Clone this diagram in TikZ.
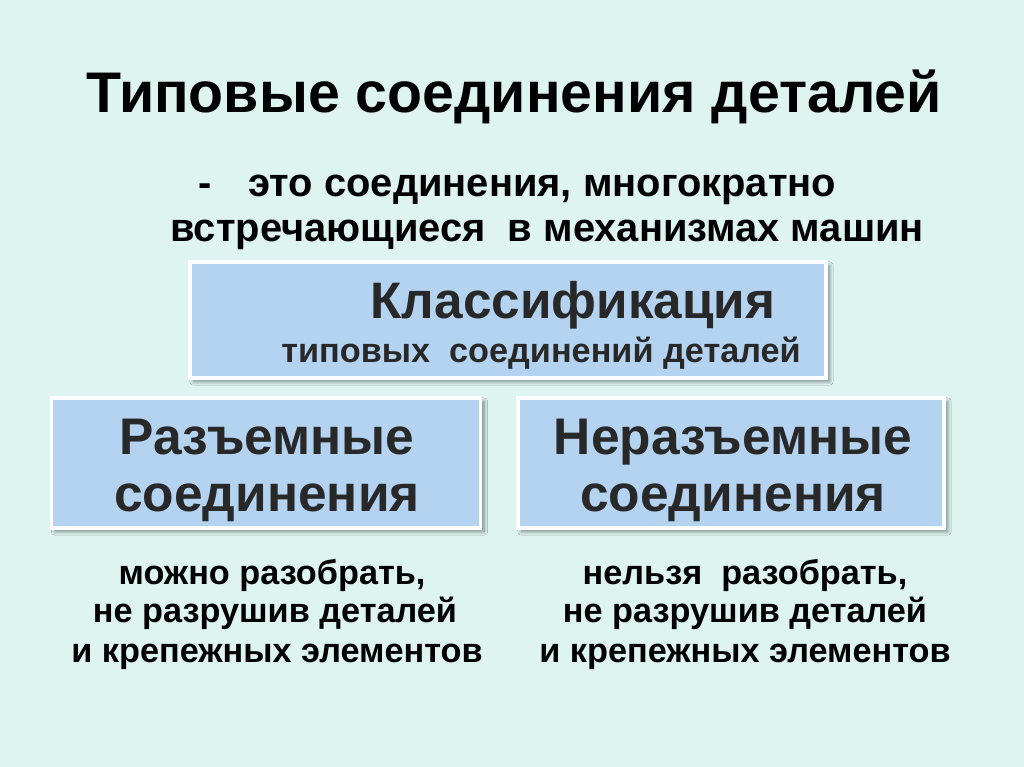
\documentclass[tikz,border=0pt]{standalone}
\usepackage{fontspec}
\setmainfont{Liberation Sans}
\usetikzlibrary{shadows.blur}
\definecolor{bgmint}{RGB}{221,244,239}
\definecolor{boxblue}{RGB}{180,211,240}
\definecolor{boxtext}{RGB}{40,40,40}
\newcommand{\fs}[1]{\fontsize{#1}{1.2\dimexpr#1pt\relax}\selectfont}
\tikzset{
  panel/.style={draw=white, line width=2.2pt, fill=boxblue, inner sep=0pt,
    blur shadow={shadow xshift=2pt, shadow yshift=-2pt, shadow blur steps=8, shadow opacity=45}},
  plain/.style={inner sep=0pt, font=\bfseries, text=black},
  intext/.style={inner sep=0pt, font=\bfseries, text=boxtext},
}
\begin{document}
\begin{tikzpicture}[x=0.02cm,y=-0.02cm]
\fill[bgmint] (0,0) rectangle (1024,767);
\useasboundingbox (0,0) rectangle (1024,767);

\node[plain, font=\bfseries\fs{32.6}] (title) at (514,97) {Типовые соединения деталей};
\node[plain, font=\bfseries\fs{22.7}, anchor=base west] (dash) at (198,196) {-};
\node[plain, font=\bfseries\fs{22.7}, anchor=base west] (sub1) at (248,196) {это соединения, многократно};
\node[plain, font=\bfseries\fs{22.7}, anchor=base west] (sub2) at (170,241) {встречающиеся\ \ в механизмах машин};

\node[panel, minimum width=636*0.02cm, minimum height=116*0.02cm] (top) at (508,320) {};
\node[intext, font=\bfseries\fs{29.2}, anchor=base] (klass) at (573,318) {Классификация};
\node[intext, font=\bfseries\fs{19.5}, anchor=base] (klass2) at (541,362) {типовых\ \ соединений деталей};

\node[panel, minimum width=429*0.02cm, minimum height=130*0.02cm] (left) at (266,463) {};
\node[intext, font=\bfseries\fs{29.3}, anchor=base] (l1) at (267,454) {Разъемные};
\node[intext, font=\bfseries\fs{29.3}, anchor=base] (l2) at (267,511) {соединения};

\node[panel, minimum width=426*0.02cm, minimum height=130*0.02cm] (right) at (731,463) {};
\node[intext, font=\bfseries\fs{29.3}, anchor=base] (r1) at (733,454) {Неразъемные};
\node[intext, font=\bfseries\fs{29.3}, anchor=base] (r2) at (733,511) {соединения};

\node[plain, font=\bfseries\fs{19.5}, anchor=base] (b1) at (272,584) {можно разобрать,};
\node[plain, font=\bfseries\fs{19.5}, anchor=base] (b2) at (275,622) {не разрушив деталей};
\node[plain, font=\bfseries\fs{19.5}, anchor=base] (b3) at (277,662) {и крепежных элементов};

\node[plain, font=\bfseries\fs{19.5}, anchor=base] (c1) at (745,584) {нельзя\ \ разобрать,};
\node[plain, font=\bfseries\fs{19.5}, anchor=base] (c2) at (745,622) {не разрушив деталей};
\node[plain, font=\bfseries\fs{19.5}, anchor=base] (c3) at (745,662) {и крепежных элементов};
\end{tikzpicture}
\end{document}
